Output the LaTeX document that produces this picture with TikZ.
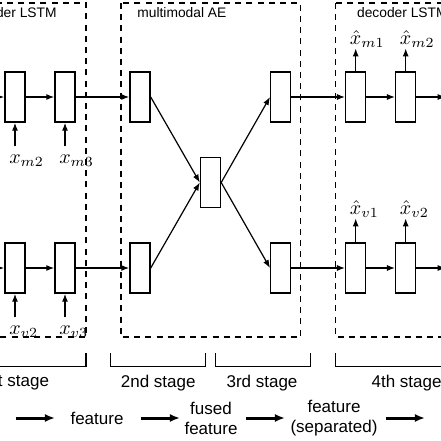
\documentclass[tikz,border=0pt]{standalone}
\usepackage{fontspec}
\setmainfont{Liberation Sans}
\usetikzlibrary{arrows.meta}
\begin{document}
\begin{tikzpicture}[x=0.5pt,y=-0.5pt,>={Latex[length=4pt,width=3pt]},font=\fontsize{8.5}{10}\selectfont,
  cell/.style={draw,line width=0.7pt,minimum width=10pt,minimum height=25pt,inner sep=0pt},
  conn/.style={->,line width=0.6pt},
  grp/.style={line width=0.6pt,dash pattern=on 3pt off 2.6pt},
  grplbl/.style={inner sep=0pt,font=\fontsize{6.9}{8}\selectfont},
  inlbl/.style={anchor=base,inner xsep=0pt,inner ysep=4pt,font=\fontsize{10}{12}\selectfont},
  outlbl/.style={anchor=base,inner xsep=0pt,inner ysep=0.5pt,font=\fontsize{10}{12}\selectfont},
  txt/.style={inner sep=0pt,align=center},
  key/.style={-{Latex[length=5pt,width=4pt]},line width=1.5pt}]
\useasboundingbox (0,0) rectangle (441,441);
\clip (0,0) rectangle (441,441);
% dashed groups
\draw[grp] (-80,3) rectangle (86,337);
\draw[grp] (121,3) rectangle (300.7,337);
\draw[grp] (335.7,3) rectangle (520,337);
\node[grplbl,anchor=east] (enclbl) at (57,13) {encoder LSTM};
\node[grplbl,anchor=west] (aelbl) at (137,13) {multimodal AE};
\node[grplbl,anchor=west] (declbl) at (356.7,13) {decoder LSTM};
% cells
\node[cell] (em1) at (15,97) {};
\node[cell] (em2) at (65,97) {};
\node[cell] (ev1) at (15,268) {};
\node[cell] (ev2) at (65,268) {};
\node[cell] (am) at (140,97) {};
\node[cell] (av) at (140,268) {};
\node[cell] (fu) at (210.5,182.5) {};
\node[cell] (bm) at (280.7,97) {};
\node[cell] (bv) at (280.7,268) {};
\node[cell] (dm1) at (355.7,97) {};
\node[cell] (dm2) at (405.7,97) {};
\node[cell] (dv1) at (355.7,268) {};
\node[cell] (dv2) at (405.7,268) {};
\coordinate (min) at (-35,97);
\coordinate (vin) at (-35,268);
\coordinate (mout) at (445.7,97);
\coordinate (vout) at (445.7,268);
% inputs and outputs
\node[inlbl] (xm2) at (15,163.5) {$x\rlap{$_{m2}$}$};
\node[inlbl] (xm3) at (65,163.5) {$x\rlap{$_{m3}$}$};
\node[inlbl] (xv2) at (15,334.5) {$x\rlap{$_{v2}$}$};
\node[inlbl] (xv3) at (65,334.5) {$x\rlap{$_{v3}$}$};
\node[outlbl] (ym1) at (355.7,44) {$\hat{x}\rlap{$_{m1}$}$};
\node[outlbl] (ym2) at (405.7,44) {$\hat{x}\rlap{$_{m2}$}$};
\node[outlbl] (yv1) at (355.7,214) {$\hat{x}\rlap{$_{v1}$}$};
\node[outlbl] (yv2) at (405.7,214) {$\hat{x}\rlap{$_{v2}$}$};
% connectors
\draw[conn] (min) -- (em1);
\draw[conn] (em1) -- (em2);
\draw[conn] (em2) -- (am);
\draw[conn] (vin) -- (ev1);
\draw[conn] (ev1) -- (ev2);
\draw[conn] (ev2) -- (av);
\draw[conn] (am.east) -- (fu.west);
\draw[conn] (av.east) -- (fu.west);
\draw[conn] (fu.east) -- (bm.west);
\draw[conn] (fu.east) -- (bv.west);
\draw[conn] (bm) -- (dm1);
\draw[conn] (dm1) -- (dm2);
\draw[conn] (dm2) -- (mout);
\draw[conn] (bv) -- (dv1);
\draw[conn] (dv1) -- (dv2);
\draw[conn] (dv2) -- (vout);
\draw[conn] (xm2) -- (em1);
\draw[conn] (xm3) -- (em2);
\draw[conn] (xv2) -- (ev1);
\draw[conn] (xv3) -- (ev2);
\draw[conn] (dm1) -- (ym1);
\draw[conn] (dm2) -- (ym2);
\draw[conn] (dv1) -- (yv1);
\draw[conn] (dv2) -- (yv2);
% stages
\draw[line width=0.6pt] (-57,353) |- (86,366.7) -- (86,353);
\draw[line width=0.6pt] (110.7,353) |- (205.7,366.7) -- (205.7,353);
\draw[line width=0.6pt] (215.7,353) |- (310.7,366.7) -- (310.7,353);
\draw[line width=0.6pt] (335.7,353) |- (477.5,366.7) -- (477.5,353);
\node[txt] (s1) at (14.5,382.7) {1st stage};
\node[txt] (s2) at (158.2,382.7) {2nd stage};
\node[txt] (s3) at (262,382.7) {3rd stage};
\node[txt] (s4) at (406.6,382.7) {4th stage};
% legend
\foreach \x in {15.7,140.7,245.7,385.7}
  \draw[key] (\x,418) -- ++(39.3,0);
\node[txt] (kfeat) at (97,418) {feature};
\node[txt] (kfused) at (211,418) {fused\\feature};
\node[txt] (ksep) at (334,418) {feature\\(separated)};
\end{tikzpicture}
\end{document}
